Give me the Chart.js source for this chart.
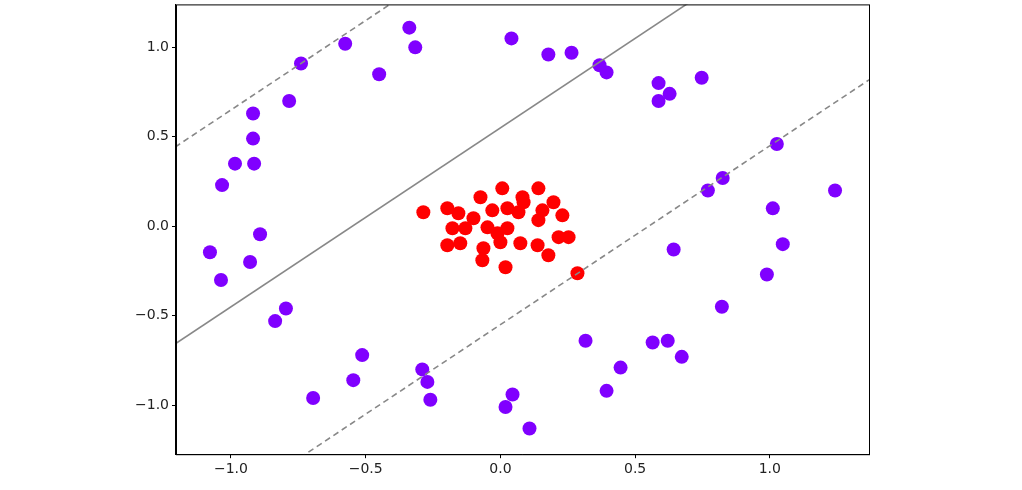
<!DOCTYPE html>
<html>
<head>
<script src="https://cdn.jsdelivr.net/npm/chart.js@4"></script>
<style>body{margin:0;background:#fff;overflow:hidden}#wrap{width:1022px;height:497px;margin-top:-7px}</style>
</head>
<body>
<div id="wrap"><canvas id="c"></canvas></div>
<script>
// outer ring class (purple)
const ringX = [-0.338,-0.316,0.041,0.178,0.264,-0.576,-0.74,-0.45,0.368,0.394,0.587,0.747,0.628,0.587,-0.784,-0.918,-0.918,-0.985,-0.914,-1.033,1.026,0.825,0.770,1.242,1.011,-0.892,-1.078,1.048,0.643,-0.929,-1.037,0.989,-0.796,-0.836,0.822,0.316,-0.513,-0.546,-0.29,-0.271,-0.26,-0.695,0.565,0.621,0.673,0.446,0.394,0.045,0.019,0.108];
const ringY = [1.11,1.0,1.05,0.96,0.97,1.02,0.91,0.85,0.90,0.86,0.80,0.83,0.74,0.70,0.70,0.63,0.49,0.35,0.35,0.23,0.46,0.27,0.20,0.20,0.10,-0.045,-0.145,-0.10,-0.13,-0.20,-0.30,-0.27,-0.46,-0.53,-0.45,-0.64,-0.72,-0.86,-0.80,-0.87,-0.97,-0.96,-0.65,-0.64,-0.73,-0.79,-0.92,-0.94,-1.01,-1.13];
// inner cluster (red)
const coreX = [-0.286,-0.074,0.007,0.141,0.082,0.197,-0.197,-0.156,0.230,0.156,0.141,-0.030,0.026,0.067,-0.100,-0.178,-0.130,-0.048,0.026,-0.197,-0.149,-0.063,0.0,0.074,0.138,0.178,0.216,0.253,-0.067,0.019,0.286,-0.011,0.086];
const coreY = [0.078,0.162,0.212,0.212,0.162,0.134,0.101,0.073,0.061,0.089,0.034,0.089,0.101,0.078,0.045,-0.011,-0.011,-0.006,-0.011,-0.106,-0.095,-0.123,-0.089,-0.095,-0.106,-0.162,-0.061,-0.061,-0.190,-0.229,-0.263,-0.039,0.134];
// decision boundary y = x + b, margins at b +/- 1.1
const lineX = [-1.3, 1.5];
const offsets = [0.55, 1.65, -0.55];
const tickVals = [-1, -0.5, 0, 0.5, 1];

const pts = (xs, ys) => xs.map((x, i) => ({x, y: ys[i]}));
const line = b => lineX.map(x => ({x, y: x + b}));
const fmt = v => v.toFixed(1).replace('-', '\u2212');
const axisGrid = {drawOnChartArea: false, drawTicks: true, tickLength: 4, color: '#000'};

new Chart(document.getElementById('c'), {
  type: 'scatter',
  data: {
    datasets: [
      {data: line(offsets[0]), showLine: true, borderColor: '#888', borderWidth: 1.6, pointRadius: 0},
      {data: line(offsets[1]), showLine: true, borderColor: '#888', borderWidth: 1.6, borderDash: [6,4], pointRadius: 0},
      {data: line(offsets[2]), showLine: true, borderColor: '#888', borderWidth: 1.6, borderDash: [6,4], pointRadius: 0},
      {data: pts(ringX, ringY), backgroundColor: '#8000ff', borderWidth: 0, pointRadius: 7},
      {data: pts(coreX, coreY), backgroundColor: '#ff0000', borderWidth: 0, pointRadius: 7}
    ]
  },
  options: {
    responsive: true, maintainAspectRatio: false, animation: false,
    layout: {padding: {left: 132, right: 153, top: 0, bottom: 9}},
    plugins: {legend: {display: false}, tooltip: {enabled: false}},
    scales: {
      x: {min: -1.204, max: 1.368, grid: axisGrid, border: {color: '#000'},
          ticks: {color: '#222', font: {family: 'DejaVu Sans', size: 14}, callback: fmt},
          afterBuildTicks: a => { a.ticks = tickVals.map(v => ({value: v})); }},
      y: {min: -1.274, max: 1.24, grid: axisGrid, border: {color: '#000'},
          ticks: {color: '#222', font: {family: 'DejaVu Sans', size: 14}, callback: fmt},
          afterBuildTicks: a => { a.ticks = tickVals.map(v => ({value: v})); }}
    }
  },
  plugins: [{id: 'frame', afterDraw(ch) {
    const {ctx, chartArea: a} = ch;
    ctx.save(); ctx.strokeStyle = '#000'; ctx.lineWidth = 1;
    ctx.strokeRect(a.left + 0.5, a.top + 0.5, a.width, a.height); ctx.restore();
  }}]
});
</script>
</body>
</html>
